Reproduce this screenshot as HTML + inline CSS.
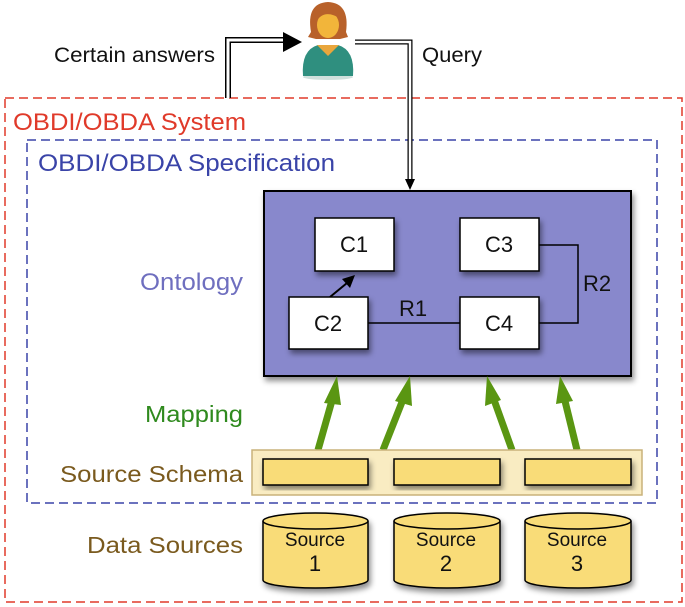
<!DOCTYPE html>
<html><head><style>body{margin:0;background:#fff}svg{display:block;font-family:"Liberation Sans",sans-serif}</style></head>
<body>
<svg width="685" height="607" viewBox="0 0 685 607">
<defs>
<filter id="sh" x="-20%" y="-20%" width="140%" height="140%"><feDropShadow dx="2" dy="4" stdDeviation="3" flood-opacity="0.45"/></filter>
</defs>
<rect x="5" y="98" width="677" height="504" fill="none" stroke="#e03a2a" stroke-width="1.5" stroke-dasharray="9,5"/>
<rect x="27" y="140" width="630" height="363" fill="none" stroke="#3a44a8" stroke-width="1.5" stroke-dasharray="9,5"/>
<path d="M228 98 V40 H290" fill="none" stroke="#000" stroke-width="6"/>
<path d="M228 98 V40 H290" fill="none" stroke="#fff" stroke-width="3"/>
<polygon points="283,32 302,42 283,52" fill="#000"/>
<path d="M355 42 H410 V182" fill="none" stroke="#000" stroke-width="5"/>
<path d="M355 42 H410 V182" fill="none" stroke="#fff" stroke-width="2.5"/>
<polygon points="405,179 415,179 410,190" fill="#000"/>
<ellipse cx="328" cy="77" rx="25" ry="3" fill="#cfe0dc"/>
<path d="M303 76 Q301 50 318 45 L338 45 Q355 50 353 76 Z" fill="#2f8f7f"/>
<path d="M317 45 L328 56 L339 45" fill="#e9a63c"/>
<path d="M311 32 Q306 3 328 2 Q350 3 346 32 L348 37 L340 39 L316 39 L308 37 Z" fill="#b8612a"/>
<ellipse cx="328" cy="25" rx="11" ry="13" fill="#f2b53a"/>
<path d="M316 22 Q324 8 341 19 L341 12 Q328 3 316 14 Z" fill="#b8612a"/>
<g lengthAdjust="spacingAndGlyphs">
<text x="54" y="62" fill="#111" font-size="21" textLength="161" lengthAdjust="spacingAndGlyphs">Certain answers</text>
<text x="422" y="62" fill="#111" font-size="21" textLength="60" lengthAdjust="spacingAndGlyphs">Query</text>
<text x="13" y="130" fill="#e03a2a" font-size="24" textLength="233" lengthAdjust="spacingAndGlyphs">OBDI/OBDA System</text>
<text x="38" y="171" fill="#3a44a8" font-size="24" textLength="297" lengthAdjust="spacingAndGlyphs">OBDI/OBDA Specification</text>
<text x="140" y="290" fill="#6f6fbf" font-size="24" textLength="103" lengthAdjust="spacingAndGlyphs">Ontology</text>
<text x="145" y="422" fill="#2f8a1e" font-size="23" textLength="98" lengthAdjust="spacingAndGlyphs">Mapping</text>
<text x="60" y="482" fill="#7a5a1e" font-size="23" textLength="183" lengthAdjust="spacingAndGlyphs">Source Schema</text>
<text x="87" y="553" fill="#7a5a1e" font-size="23" textLength="156" lengthAdjust="spacingAndGlyphs">Data Sources</text>
</g>
<rect x="264" y="191" width="367" height="185" fill="#8888cc" stroke="#000" stroke-width="2" filter="url(#sh)"/>
<path d="M368 323 H460 M539 245 H578 V323 H539" fill="none" stroke="#000" stroke-width="1.5"/>
<line x1="330" y1="297" x2="347" y2="283" stroke="#000" stroke-width="2"/>
<polygon points="355,275 342,279 350,288" fill="#000"/>
<g fill="#fff" stroke="#000" stroke-width="1.5" filter="url(#sh)">
<rect x="315" y="218" width="79" height="53"/>
<rect x="460" y="218" width="79" height="53"/>
<rect x="289" y="297" width="79" height="52"/>
<rect x="460" y="297" width="79" height="52"/>
</g>
<g font-size="22" fill="#111" text-anchor="middle">
<text x="354" y="252">C1</text><text x="499" y="252">C3</text>
<text x="328" y="331">C2</text><text x="499" y="331">C4</text>
<text x="413" y="316">R1</text><text x="597" y="291">R2</text>
</g>
<g stroke="#5a9612" stroke-width="7">
<line x1="318" y1="450" x2="333" y2="397"/><line x1="383" y1="450" x2="404" y2="397"/>
<line x1="512" y1="450" x2="493" y2="397"/><line x1="577" y1="450" x2="564" y2="397"/>
</g>
<g fill="#5a9612">
<polygon points="337,376 324,403 341,405"/>
<polygon points="410,376 395,401 412,406"/>
<polygon points="487,376 485,406 501,400"/>
<polygon points="560,376 556,404 573,401"/>
</g>
<rect x="252" y="450" width="390" height="45" fill="#f9ecc2" stroke="#c9b27a" stroke-width="1.5"/>
<g fill="#f9dc78" stroke="#000" stroke-width="1.5" filter="url(#sh)">
<rect x="263" y="459" width="105" height="26"/>
<rect x="394" y="459" width="106" height="26"/>
<rect x="525" y="459" width="106" height="26"/>
</g>
<g fill="#f9dc78" stroke="#000" stroke-width="1.5" filter="url(#sh)">
<path d="M263 521 V580 A52.5 8 0 0 0 368 580 V521"/>
<ellipse cx="315.5" cy="521" rx="52.5" ry="8"/>
<path d="M394 521 V580 A53 8 0 0 0 500 580 V521"/>
<ellipse cx="447" cy="521" rx="53" ry="8"/>
<path d="M525 521 V580 A53 8 0 0 0 631 580 V521"/>
<ellipse cx="578" cy="521" rx="53" ry="8"/>
</g>
<g font-size="19" fill="#111" text-anchor="middle">
<text x="315" y="546">Source</text><text x="315" y="571" font-size="22">1</text>
<text x="446" y="546">Source</text><text x="446" y="571" font-size="22">2</text>
<text x="577" y="546">Source</text><text x="577" y="571" font-size="22">3</text>
</g>
</svg>
</body></html>
